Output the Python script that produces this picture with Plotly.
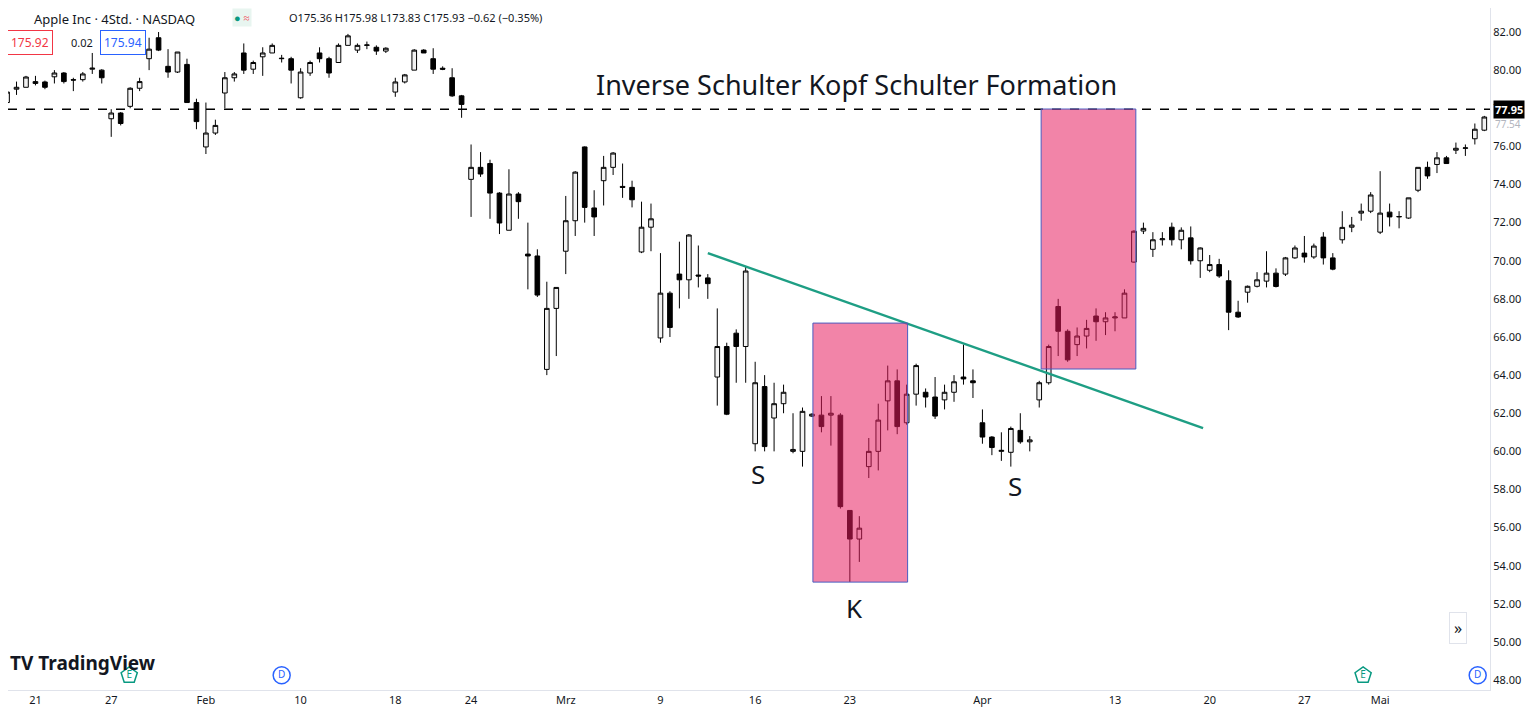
import plotly.graph_objects as go

# 4h candles, Apple (pre-split scale as shown on the axis)
opens = [78.3, 79.0, 79.1, 79.3, 79.38, 79.65, 79.85, 79.5, 79.5, 80.05, 80.0, 77.45, 77.75, 78.1, 79.05, 80.6, 81.7,
         80.2, 79.9, 80.3, 78.3, 75.97, 76.7, 78.8, 79.6, 80.9, 80.05, 80.7, 80.9, 80.6, 80.6, 78.55, 79.85, 80.9,
         80.6, 80.4, 81.3, 81.05, 81.3, 81.2, 81.0, 78.85, 79.38, 80.0, 81.05, 80.6, 80.1, 79.6, 78.65,
         74.27, 74.9, 75.1, 73.55, 71.6, 73.5, 70.35, 70.25, 64.3, 67.5, 70.5, 72.1, 75.97, 72.77, 74.2, 74.9, 73.9,
         73.85, 70.46, 71.76, 65.95, 68.3, 69.3, 69.0, 69.25, 69.1, 63.9, 65.5, 66.2, 65.5, 60.4, 63.4, 61.75,
         62.5, 60.0, 60.0, 61.85, 61.9, 61.9, 61.9, 56.9, 55.4, 59.2, 60.0, 62.65, 63.7, 61.5, 63.0, 63.1, 62.85,
         62.7, 63.1, 63.9, 63.7, 61.5, 60.75, 60.0, 59.95, 61.1, 60.5, 62.7, 63.6,
         67.6, 66.3, 65.6, 66.05, 67.1, 66.8, 67.0, 67.0, 69.93, 71.56, 70.6, 71.1, 71.76, 71.1, 71.2, 70.0, 69.5,
         69.8, 68.95, 67.3, 68.35, 68.66, 68.93, 69.35, 69.3, 70.15, 70.4, 70.2, 71.24, 70.15, 71.1, 71.76, 72.5,
         72.6, 71.5, 72.55, 72.3, 72.24, 73.7, 74.9, 75.05, 75.4, 75.8, 75.9, 76.4, 76.85]
highs = [79.0, 79.4, 79.7, 79.7, 79.45, 80.0, 79.9, 79.6, 79.9, 80.9, 80.05, 77.95, 77.8, 79.1, 79.6, 81.7, 82.0,
         81.1, 80.95, 80.6, 78.5, 78.3, 77.4, 79.9, 79.9, 81.4, 80.5, 81.2, 81.4, 80.8, 80.7, 80.1, 80.5, 81.2,
         80.7, 81.4, 81.9, 81.4, 81.5, 81.3, 81.2, 79.6, 79.8, 81.1, 81.1, 81.15, 80.2, 80.1, 78.7,
         76.1, 75.7, 75.3, 73.6, 74.8, 73.6, 72.0, 70.6, 68.9, 68.6, 73.4, 74.7, 76.0, 73.7, 75.5, 75.7, 75.1,
         74.2, 73.1, 73.0, 70.4, 68.4, 71.0, 71.4, 70.8, 69.3, 67.5, 65.7, 66.4, 69.7, 64.7, 64.0, 63.6,
         63.5, 62.0, 62.3, 62.0, 62.9, 62.9, 62.0, 56.9, 56.6, 60.7, 62.5, 64.5, 64.3, 63.5, 64.6, 63.3, 63.9,
         63.5, 64.0, 65.6, 64.3, 62.2, 60.8, 61.0, 61.3, 62.0, 60.8, 63.7, 65.6,
         68.0, 66.4, 66.5, 66.9, 67.5, 67.3, 67.3, 68.5, 71.6, 72.0, 71.5, 71.5, 72.0, 71.75, 71.8, 70.7, 70.3,
         70.1, 69.5, 67.9, 68.7, 69.4, 70.5, 69.6, 70.2, 70.8, 71.3, 70.9, 71.5, 70.4, 72.6, 72.3, 73.0,
         73.6, 74.7, 73.0, 72.6, 73.3, 74.9, 75.2, 75.7, 75.5, 76.2, 76.1, 77.2, 77.6]
lows = [78.2, 78.7, 79.1, 79.2, 79.0, 79.3, 79.3, 78.9, 79.4, 79.8, 79.3, 76.5, 77.1, 78.0, 78.9, 80.0, 81.0,
        79.6, 79.85, 78.3, 76.9, 75.6, 76.6, 78.0, 79.4, 79.8, 79.8, 79.7, 80.9, 80.4, 79.3, 78.5, 79.7, 80.4,
        79.6, 80.4, 81.3, 80.9, 81.1, 80.8, 80.9, 78.6, 79.3, 80.0, 80.9, 79.8, 80.0, 78.6, 77.5,
        72.3, 74.4, 72.2, 71.4, 71.6, 72.2, 68.5, 68.1, 64.0, 65.0, 69.3, 71.3, 72.0, 71.3, 72.9, 74.5, 73.3,
        72.8, 70.4, 70.5, 65.7, 66.0, 67.5, 68.0, 68.6, 68.0, 62.4, 61.9, 63.6, 63.6, 60.0, 60.0, 60.0,
        62.0, 59.9, 59.2, 61.8, 61.0, 60.3, 57.0, 53.15, 54.2, 58.6, 59.0, 61.1, 60.9, 61.4, 62.4, 62.3, 61.7,
        62.2, 62.6, 63.5, 62.8, 60.4, 59.8, 59.5, 59.2, 60.4, 60.0, 62.3, 63.5,
        65.0, 64.7, 65.0, 65.4, 65.8, 66.1, 66.3, 67.0, 69.9, 71.4, 70.2, 70.8, 70.8, 70.6, 69.8, 69.1, 69.4,
        69.1, 66.36, 67.0, 67.8, 68.6, 68.6, 68.6, 69.2, 70.1, 69.9, 70.1, 69.8, 69.5, 70.9, 71.5, 72.1,
        72.5, 71.4, 71.8, 71.7, 72.2, 73.6, 74.3, 74.6, 75.1, 75.6, 75.5, 76.1, 76.8]
closes = [78.85, 79.1, 79.64, 79.4, 79.1, 79.85, 79.4, 79.48, 79.8, 80.1, 79.6, 77.75, 77.2, 79.05, 79.4, 81.1, 81.05,
          79.9, 80.95, 78.3, 77.3, 76.7, 77.1, 79.6, 79.8, 80.0, 80.4, 80.9, 81.3, 80.62, 80.0, 79.9, 80.4, 80.6,
          79.85, 81.3, 81.8, 81.3, 81.32, 81.0, 81.15, 79.38, 79.75, 81.05, 80.9, 80.05, 80.05, 78.65, 78.2,
          74.9, 74.55, 73.55, 71.98, 73.5, 73.1, 70.25, 68.2, 67.5, 68.6, 72.1, 74.65, 72.8, 72.3, 74.9, 75.65, 73.85,
          73.2, 71.76, 72.2, 68.3, 66.5, 69.0, 71.35, 69.2, 68.8, 65.5, 61.95, 65.5, 69.46, 63.6, 60.25, 62.5,
          63.1, 60.1, 62.1, 61.95, 61.3, 62.0, 57.1, 55.4, 55.97, 60.0, 61.64, 63.7, 61.3, 63.0, 64.5, 62.85, 61.85,
          63.1, 63.65, 63.8, 63.6, 60.75, 60.2, 60.05, 61.2, 60.5, 60.6, 63.6, 65.5,
          66.3, 64.8, 66.05, 66.45, 66.8, 67.0, 67.05, 68.3, 71.55, 71.7, 71.1, 71.15, 71.1, 71.6, 70.0, 70.67, 69.8,
          69.2, 67.3, 67.05, 68.66, 69.0, 69.35, 68.65, 70.15, 70.67, 70.2, 70.77, 70.15, 69.56, 71.75, 71.87, 72.6,
          73.45, 72.5, 72.3, 72.32, 73.3, 74.9, 74.45, 75.4, 75.1, 75.9, 75.92, 76.9, 77.54]

tick_idx = [3, 11, 21, 31, 41, 49, 59, 69, 79, 89, 103, 117, 127, 137, 145]
tick_txt = ["21", "27", "Feb", "10", "18", "24", "Mrz", "9", "16", "23", "Apr", "13", "20", "27", "Mai"]

neckline = 77.95
head_box = (85.1, 95.1, 53.14, 66.73)
break_box = (109.2, 119.2, 64.32, 77.96)
trend_x = [74.0, 126.3]
trend_y = [70.4, 61.22]

event_x = [12.9, 29.0, 143.2, 155.3]
event_txt = ["E", "D", "E", "D"]
event_col = ["#089981", "#2962ff", "#089981", "#2962ff"]

x = list(range(len(opens)))
fig = go.Figure(go.Candlestick(
    x=x, open=opens, high=highs, low=lows, close=closes,
    increasing=dict(fillcolor="#f2f2f2", line=dict(color="#000000", width=1)),
    decreasing=dict(fillcolor="#000000", line=dict(color="#000000", width=1)),
    whiskerwidth=0, hoverinfo="skip"))

fig.add_trace(go.Scatter(x=trend_x, y=trend_y, mode="lines",
                         line=dict(color="#1e9e84", width=2.5), hoverinfo="skip"))

fig.add_hline(y=neckline, line=dict(color="#000000", width=1.5, dash="dash"))
for b in (head_box, break_box):
    fig.add_shape(type="rect", x0=b[0], x1=b[1], y0=b[2], y1=b[3], layer="above",
                  fillcolor="rgba(231,28,94,0.54)", line=dict(color="#4a5cc0", width=1))

txt = dict(family="Noto Sans", color="#131722")
fig.add_annotation(x=89.7, y=79.25, text="Inverse Schulter Kopf Schulter Formation", showarrow=False,
                   font=dict(size=27, **txt))
for xi, yi, t in [(79.3, 58.8, "S"), (89.5, 51.8, "K"), (106.4, 58.2, "S")]:
    fig.add_annotation(x=xi, y=yi, text=t, showarrow=False, font=dict(size=26, **txt))

# event markers on the bottom
fig.add_trace(go.Scatter(x=event_x, y=[48.25] * 4, mode="markers+text", text=event_txt,
                         textfont=dict(size=10, color=event_col, family="Noto Sans"),
                         marker=dict(size=17, color="#ffffff", line=dict(color=event_col, width=1.5),
                                     symbol=["pentagon", "circle", "pentagon", "circle"]),
                         cliponaxis=False, hoverinfo="skip"))

# header / chrome
fig.add_annotation(xref="paper", yref="paper", x=0.016, y=1.0, xanchor="left", yanchor="top",
                   text="Apple Inc · 4Std. · NASDAQ", showarrow=False, font=dict(size=13, **txt))
fig.add_annotation(xref="paper", yref="paper", x=0.151, y=1.0, xanchor="left", yanchor="top",
                   text="<span style='color:#089981'>●</span> <span style='color:#f23645'>≈</span>",
                   showarrow=False, bgcolor="#e8f5f0", font=dict(size=11, **txt))
fig.add_annotation(xref="paper", yref="paper", x=0.188, y=1.0, xanchor="left", yanchor="top",
                   text="O175.36 H175.98 L173.83 C175.93 −0.62 (−0.35%)", showarrow=False,
                   font=dict(size=11, **txt))
fig.add_annotation(xref="paper", yref="paper", x=-0.001, y=0.968, xanchor="left", yanchor="top",
                   text="175.92", showarrow=False, bordercolor="#f23645", borderwidth=1, borderpad=3,
                   font=dict(size=12, family="Noto Sans", color="#f23645"))
fig.add_annotation(xref="paper", yref="paper", x=0.041, y=0.964, xanchor="left", yanchor="top",
                   text="0.02", showarrow=False, font=dict(size=11, **txt))
fig.add_annotation(xref="paper", yref="paper", x=0.062, y=0.968, xanchor="left", yanchor="top",
                   text="175.94", showarrow=False, bordercolor="#2962ff", borderwidth=1, borderpad=3,
                   font=dict(size=12, family="Noto Sans", color="#2962ff"))
fig.add_annotation(xref="paper", yref="paper", x=0.0, y=0.04, xanchor="left", yanchor="middle",
                   text="<b>TV TradingView</b>", showarrow=False, font=dict(size=19, **txt))
fig.add_annotation(xref="paper", yref="y", x=1.002, y=neckline, xanchor="left", text="<b>77.95</b>",
                   showarrow=False, bgcolor="#000000", font=dict(size=11, family="Noto Sans", color="#ffffff"))
fig.add_annotation(xref="paper", yref="y", x=1.002, y=77.2, xanchor="left", text="77.54",
                   showarrow=False, font=dict(size=10, family="Noto Sans", color="#b2b5be"))
fig.add_annotation(xref="paper", yref="paper", x=0.9845, y=0.068, text="»", showarrow=False,
                   bordercolor="#e0e3eb", borderwidth=1, borderpad=4, bgcolor="#ffffff",
                   font=dict(size=16, **txt))

fig.update_layout(
    width=1528, height=706, showlegend=False,
    margin=dict(l=0, r=46, t=0, b=24),
    plot_bgcolor="#ffffff", paper_bgcolor="#ffffff",
    xaxis=dict(range=[0.1, 156.6], rangeslider=dict(visible=False), showgrid=False, zeroline=False,
               tickvals=tick_idx, ticktext=tick_txt, ticks="", tickfont=dict(size=11, color="#131722",
               family="Noto Sans"), showline=True, linecolor="#e0e3eb"),
    yaxis=dict(range=[47.48, 83.26], side="right", showgrid=False, zeroline=False, dtick=2,
               tick0=48, tickformat=".2f", tickfont=dict(size=11, color="#131722", family="Noto Sans"),
               showline=True, linecolor="#e0e3eb", ticks=""),
)
fig.write_html("out.html")
